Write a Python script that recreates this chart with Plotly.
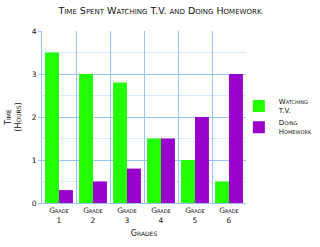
import plotly.graph_objects as go

categories = ["Grade<br>1", "Grade<br>2", "Grade<br>3", "Grade<br>4", "Grade<br>5", "Grade<br>6"]
watching_tv = [3.5, 3.0, 2.8, 1.5, 1.0, 0.5]
homework = [0.3, 0.5, 0.8, 1.5, 2.0, 3.0]

FAM = "DejaVu Sans"
def f(size):
    return dict(family=FAM, size=size, color="#111111", variant="small-caps")

fig = go.Figure()
fig.add_trace(go.Bar(x=categories, y=watching_tv, name="Watching<br>T.V.",
                     marker=dict(color="#22ff00", line=dict(width=0))))
fig.add_trace(go.Bar(x=categories, y=homework, name="Doing<br>Homework",
                     marker=dict(color="#9900cc", line=dict(width=0))))

fig.update_layout(
    width=320, height=247,
    margin=dict(l=42, r=74, t=31, b=44, autoexpand=False),
    paper_bgcolor="white", plot_bgcolor="white",
    barmode="group", bargap=0.18, bargroupgap=0.0,
    font=f(8),
    title=dict(text="Time Spent Watching T.V. and Doing Homework",
               x=0.5, xanchor="center", y=0.955, yanchor="middle",
               font=f(9.5)),
    showlegend=True,
    legend=dict(x=0.965, y=0.655, xanchor="left", yanchor="top",
                font=f(7), itemwidth=30, tracegroupgap=25,
                bgcolor="rgba(0,0,0,0)"),
    xaxis=dict(tickson="boundaries", showgrid=True, gridcolor="#99c4ff",
               gridwidth=1, showline=True, linecolor="#99c4ff",
               ticks="", tickfont=f(7.5), tickangle=0, range=[-0.5, 5.5],
               automargin=False,
               title=dict(text="Grades", font=f(8), standoff=6)),
    yaxis=dict(range=[0, 4], dtick=1, showgrid=True, gridcolor="#99c4ff",
               gridwidth=1, showline=True, linecolor="#99c4ff",
               ticks="outside", ticklen=3, tickcolor="#99c4ff",
               tickfont=f(7.5), zeroline=False, automargin=False,
               minor=dict(dtick=0.5, showgrid=True, gridcolor="#d8e8ff"),
               title=dict(text="Time<br>(Hours)", font=f(8), standoff=8)),
)

fig.write_html("out.html")
